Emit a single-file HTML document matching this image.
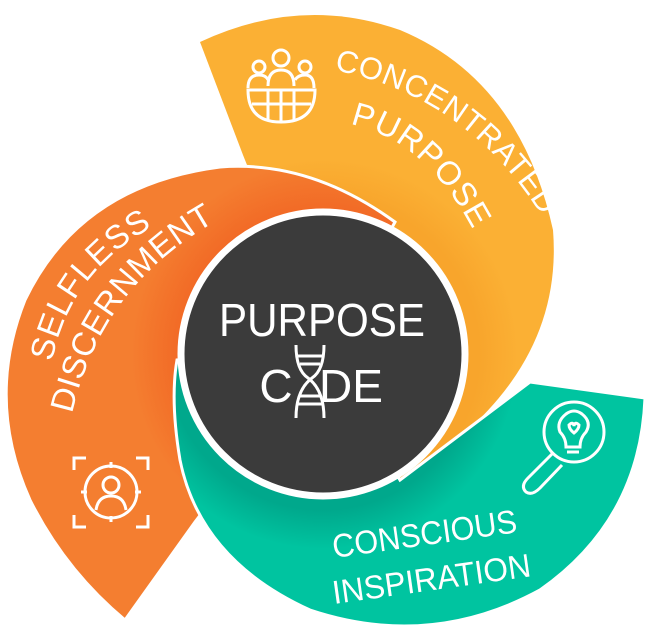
<!DOCTYPE html>
<html><head><style>
html,body{margin:0;padding:0;background:#fff;}
svg{display:block;}
text{font-family:"Liberation Sans","DejaVu Sans",sans-serif;fill:#fff;}
</style></head><body>
<svg width="650" height="631" viewBox="0 0 650 631" xmlns="http://www.w3.org/2000/svg">
<defs>
<radialGradient id="go" cx="323" cy="354" r="240" gradientUnits="userSpaceOnUse">
<stop offset="0.6" stop-color="#f26a26"/><stop offset="0.8" stop-color="#f47e30"/></radialGradient>
<radialGradient id="gt" cx="323" cy="354" r="260" gradientUnits="userSpaceOnUse">
<stop offset="0.6" stop-color="#00a88c"/><stop offset="0.75" stop-color="#00c4a0"/></radialGradient>
<radialGradient id="gy" cx="323" cy="354" r="260" gradientUnits="userSpaceOnUse">
<stop offset="0.6" stop-color="#f8a52c"/><stop offset="0.75" stop-color="#fbb034"/></radialGradient>
<path id="p1" d="M334,70 Q475,98 550,230"/>
<path id="p2" d="M350,124 Q425,140 472,228"/>
<path id="p3" d="M52,362 Q70,268 162,222"/>
<path id="p4" d="M72,414 Q100,290 208,226"/>
</defs>
<path d="M200,42 Q300,-5 400,30 Q520,80 553,230 Q565,380 400,480 L323,354 L243,155 Z" fill="url(#gy)"/>
<path d="M395,222 Q310,160 220,167 Q80,185 25,300 Q-15,400 30,500 Q65,570 125,620 L195,522 L323,354 Z" fill="url(#go)" stroke="#fff" stroke-width="3"/>
<path d="M645,398 Q640,520 540,590 Q430,650 310,610 Q200,560 180,460 Q170,400 177,360 L323,354 L400,480 L530,382 Z" fill="url(#gt)" stroke="#fff" stroke-width="3"/>
<circle cx="323" cy="354" r="142" fill="#3b3b3b" stroke="#fff" stroke-width="7"/>
<text x="322" y="336" font-size="46" text-anchor="middle" textLength="206" lengthAdjust="spacingAndGlyphs">PURPOSE</text>
<text x="276" y="402" font-size="46" text-anchor="middle">C</text>
<text x="351" y="402" font-size="46" text-anchor="middle">DE</text>
<g stroke="#fff" stroke-width="3" fill="none">
<path d="M296,345 Q296,370 308,378 Q324,390 324,418"/>
<path d="M324,345 Q324,370 312,378 Q296,390 296,418"/>
<line x1="298" y1="356" x2="322" y2="356"/><line x1="300" y1="364" x2="320" y2="364"/>
<line x1="300" y1="396" x2="320" y2="396"/><line x1="298" y1="404" x2="322" y2="404"/>
</g>
<text font-size="31" letter-spacing="0.5"><textPath href="#p1">CONCENTRATED</textPath></text>
<text font-size="33" letter-spacing="1"><textPath href="#p2">PURPOSE</textPath></text>
<text font-size="33" letter-spacing="1"><textPath href="#p3">SELFLESS</textPath></text>
<text font-size="33" letter-spacing="0.5"><textPath href="#p4">DISCERNMENT</textPath></text>
<text x="334" y="558" font-size="33" transform="rotate(-8 334 558)" textLength="186" lengthAdjust="spacingAndGlyphs">CONSCIOUS</text>
<text x="334" y="604" font-size="33" transform="rotate(-8 334 604)" textLength="200" lengthAdjust="spacingAndGlyphs">INSPIRATION</text>
<g stroke="#fff" stroke-width="3" fill="none">
<circle cx="281" cy="58" r="8"/><circle cx="259" cy="67" r="6"/><circle cx="305" cy="67" r="6"/>
<path d="M248,88 Q248,75 259,75 Q266,75 268,80"/><path d="M314,88 Q314,75 305,75 Q298,75 295,80"/>
<path d="M268,86 Q268,70 281,70 Q294,70 294,86"/>
<path d="M248,90 L315,90 Q315,122 281,122 Q248,122 248,90 Z"/>
<line x1="252" y1="104" x2="311" y2="104"/><line x1="268" y1="90" x2="268" y2="120"/><line x1="281" y1="90" x2="281" y2="122"/><line x1="294" y1="90" x2="294" y2="120"/>
</g>
<g stroke="#fff" stroke-width="3" fill="none">
<path d="M74,470 L74,458 L86,458 M136,458 L148,458 L148,470 M74,515 L74,527 L86,527 M136,527 L148,527 L148,515"/>
<circle cx="111" cy="492" r="26"/><circle cx="111" cy="485" r="8"/>
<path d="M96,510 Q98,496 111,496 Q124,496 126,510"/>
<line x1="111" y1="462" x2="111" y2="468"/><line x1="111" y1="516" x2="111" y2="522"/>
<line x1="81" y1="492" x2="87" y2="492"/><line x1="135" y1="492" x2="141" y2="492"/>
</g>
<g stroke="#fff" stroke-width="3" fill="none">
<circle cx="574" cy="432" r="30"/>
<path d="M552,454 L528,478 Q520,486 526,492 Q532,496 540,488 L562,465"/>
<path d="M566,447 Q566,438 560,432 Q556,422 566,414 Q574,408 582,414 Q592,422 586,432 Q580,438 580,447 Z"/>
<line x1="567" y1="452" x2="579" y2="452"/>
<path d="M569,425 Q573,421 574,426 Q575,421 579,425 Q579,429 574,433 Q569,429 569,425 Z"/>
</g>
</svg>
</body></html>
